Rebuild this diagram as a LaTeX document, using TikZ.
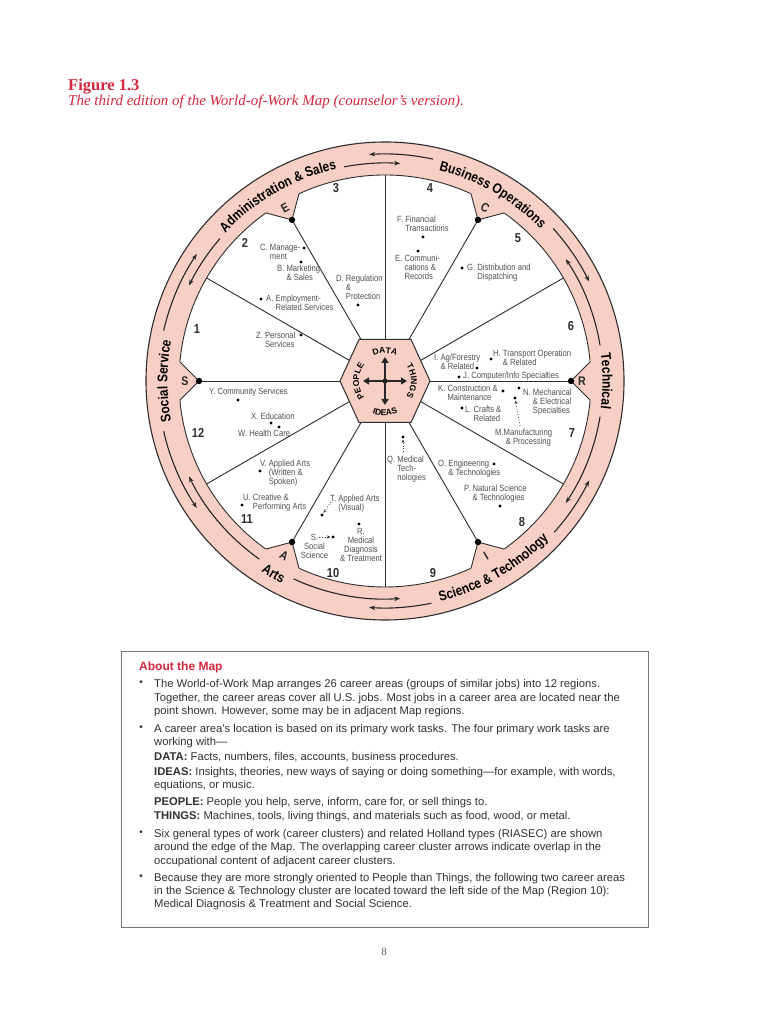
\documentclass[tikz,border=0pt]{standalone}
\usepackage{fontspec}
\setmainfont{Liberation Sans}
\newfontfamily\serif{Liberation Serif}
\newfontfamily\cond[FakeStretch=0.85]{Liberation Sans}
\usetikzlibrary{arrows.meta,calc,decorations.text}
\definecolor{ringpink}{RGB}{247,207,196}
\definecolor{titlered}{RGB}{212,38,62}
\definecolor{lblgray}{RGB}{80,80,80}
\definecolor{wheelline}{RGB}{45,45,45}
\definecolor{bodygray}{RGB}{50,50,50}
\newcommand\hin[1]{\hphantom{#1\ }}
\newcommand\ringtext{\cond\bfseries\fontsize{14}{14}\selectfont}
\newcommand\hexfont{\bfseries\fontsize{8.5}{8.5}\selectfont}
\newcommand\lbl[4]{\node[lab] (#1) at (#2,{-#3+3.3}) {#4};}
\newcommand\dt[3]{\node[dotn] (#1) at (#2,-#3) {};}
\newcommand\cwlabel[3]{\path[decorate, decoration={text along path, text={|\ringtext|#2}, text align=center}] (#1+40:#3) arc[start angle=#1+40, end angle=#1-40, radius=#3];}
\newcommand\ccwlabel[3]{\path[decorate, decoration={text along path, text={|\ringtext|#2}, text align=center}] (#1-40:#3) arc[start angle=#1-40, end angle=#1+40, radius=#3];}
\newcommand\ringarr[3]{%
  \draw[ringarrow] (#1+#2:#3) arc[start angle=#1+#2, end angle=#1+34, radius=#3];
  \draw[ringarrow] (#1-#2:#3) arc[start angle=#1-#2, end angle=#1-34, radius=#3];}
\begin{document}
\begin{tikzpicture}[x=1pt,y=1pt,
  lab/.style={font=\cond\fontsize{9}{9}\selectfont, text=lblgray, inner sep=0pt, align=left, anchor=north west},
  labc/.style={lab, align=center, anchor=north},
  dotn/.style={circle, fill=black, inner sep=0pt, minimum size=3.4pt},
  rnum/.style={font=\cond\bfseries\fontsize{13}{13}\selectfont, text=black!82, inner sep=0pt},
  clet/.style={font=\cond\bfseries\fontsize{12.5}{12.5}\selectfont, text=black!85, inner sep=0pt},
  body/.style={font=\fontsize{11.25}{13}\selectfont, text=bodygray, inner sep=0pt, anchor=base west},
  bul/.style={font=\fontsize{10}{10}\selectfont, text=bodygray, inner sep=0pt},
  ringarrow/.style={line width=1.1pt, draw=black!85, -{Stealth[length=6pt,width=4.5pt]}},
  wl/.style={draw=wheelline, line width=0.9pt},
  dotarr/.style={dotted, line width=0.8pt, draw=black!80, -{Stealth[length=3.5pt,width=3pt]}, shorten >=0.6pt},
  cross/.style={line width=2.3pt, draw=black!85, -{Triangle[length=6pt,width=7pt]}}
]
\useasboundingbox (0,0) rectangle (768,1024);
\fill[white] (0,0) rectangle (768,1024);
\begin{scope}[shift={(0,1024)}]
% title
\node[anchor=base west, inner sep=0pt, text=titlered, font=\serif\bfseries\fontsize{16.5}{16.5}\selectfont] (fig) at (68,-91) {Figure 1.3};
\node[anchor=base west, inner sep=0pt, text=titlered, font=\serif\itshape\fontsize{15}{15}\selectfont] (cap) at (68,-105.5) {The third edition of the World-of-Work Map (counselor’s version).};

% wheel
\begin{scope}[shift={(385,-381)}]
  \fill[ringpink] (0,0) circle[radius=239];
  \draw[draw=wheelline, line width=1.1pt] (0,0) circle[radius=239];
  \fill[white] (0,0) circle[radius=206];
  \draw[wl] (0,0) circle[radius=206];
  \foreach \a in {0,60,...,300} \draw[wl] (0,0) -- (\a:186);
  \foreach \a in {30,90,...,330} \draw[wl] (0,0) -- (\a:206);
  \foreach \a in {0,60,...,300} {
    \fill[ringpink] (\a:186) -- ($(\a:186)+(\a+45:27.1)$) -- (\a+6:210) -- (\a-6:210) -- ($(\a:186)+(\a-45:27.1)$) -- cycle;
    \draw[wl] ($(\a:186)+(\a+45:27.1)$) -- (\a:186) -- ($(\a:186)+(\a-45:27.1)$);
    \fill[black] (\a:186) circle[radius=3.2];
  }
  % hexagon
  \filldraw[fill=ringpink, draw=wheelline, line width=1pt] (45,0) -- (26,41.5) -- (-26,41.5) -- (-45,0) -- (-26,-41.5) -- (26,-41.5) -- cycle;
  \draw[cross] (0,0) -- (0,24);
  \draw[cross] (0,0) -- (0,-24);
  \draw[cross] (0,0) -- (-22,0);
  \draw[cross] (0,0) -- (22,0);
  \fill[black!85] (0,0) circle[radius=2.6];
  \path[decorate,decoration={text along path,text={|\hexfont|DATA},text align=center}] (135:27.5) arc[start angle=135,end angle=45,radius=27.5];
  \path[decorate,decoration={text along path,text={|\hexfont|THINGS},text align=center}] (50:26) arc[start angle=50,end angle=-50,radius=26];
  \path[decorate,decoration={text along path,text={|\hexfont|PEOPLE},text align=center}] (230:26) arc[start angle=230,end angle=130,radius=26];
  \path[decorate,decoration={text along path,text={|\hexfont|IDEAS},text align=center}] (225:34.5) arc[start angle=225,end angle=315,radius=34.5];
  % cluster labels
  \cwlabel{120}{Administration {\&} Sales}{217.5}
  \cwlabel{60}{Business Operations}{217.5}
  \cwlabel{0}{Technical}{217.5}
  \cwlabel{180}{Social Service}{217.5}
  \ccwlabel{300}{Science {\&} Technology}{227.5}
  \ccwlabel{240}{Arts}{227.5}
  % cluster arrows
  \ringarr{120}{19.2}{218}
  \ringarr{60}{17.8}{227}
  \ringarr{0}{9.4}{218}
  \ringarr{300}{18.2}{227}
  \ringarr{240}{5.2}{218}
  \ringarr{180}{12.8}{227}
  % cluster letters
  \node[clet, rotate=30] (lE) at (120:200) {E};
  \node[clet, rotate=-30] (lC) at (60:200) {C};
  \node[clet] (lR) at (0:197) {R};
  \node[clet] (lS) at (180:200) {S};
  \node[clet, rotate=-30] (lA) at (240:202) {A};
  \node[clet, rotate=30] (lI) at (300:202) {I};
\end{scope}

% region numbers
\node[rnum] (n1) at (197,-329) {1};
\node[rnum] (n2) at (245,-243) {2};
\node[rnum] (n3) at (336,-188) {3};
\node[rnum] (n4) at (430,-188) {4};
\node[rnum] (n5) at (518,-238) {5};
\node[rnum] (n6) at (571,-326) {6};
\node[rnum] (n7) at (572,-433) {7};
\node[rnum] (n8) at (522,-522) {8};
\node[rnum] (n9) at (433,-573) {9};
\node[rnum] (n10) at (333,-573) {10};
\node[rnum] (n11) at (247,-519) {11};
\node[rnum] (n12) at (198,-433) {12};

% career areas
\lbl{tC}{260}{247}{C. Manage-\\\hin{C.}ment}
\dt{dC}{304}{248}
\lbl{tB}{277}{268}{B. Marketing\\\hin{B.}\& Sales}
\dt{dB}{301}{262}
\lbl{tD}{336}{278}{D. Regulation\\\hin{D.}\&\\\hin{D.}Protection}
\dt{dD}{358}{305}
\lbl{tA}{266}{298}{A. Employment-\\\hin{A.}Related Services}
\dt{dA}{261}{299}
\lbl{tZ}{256}{335}{Z. Personal\\\hin{Z.}Services}
\dt{dZ}{301}{335}
\lbl{tY}{209}{391}{Y. Community Services}
\dt{dY}{238}{400}
\lbl{tX}{251}{416}{X. Education}
\dt{dX}{271}{423}
\lbl{tW}{238}{433}{W. Health Care}
\dt{dW}{279}{427}
\lbl{tV}{260}{463}{V. Applied Arts\\\hin{V.}(Written \&\\\hin{V.}Spoken)}
\dt{dV}{260}{471}
\lbl{tU}{243}{497}{U. Creative \&\\\hin{U.}Performing Arts}
\dt{dU}{242}{505}
\lbl{tT}{330}{498}{T. Applied Arts\\\hin{T.}(Visual)}
\dt{dT}{322}{515}
\node[labc] (tS) at (314.5,{-537+3.3}) {S.\\Social\\Science};
\dt{dS}{333}{537}
\node[labc] (tR) at (361,{-531+3.3}) {R.\\Medical\\Diagnosis\\\& Treatment};
\dt{dR}{359}{524}
\lbl{tQ}{387}{459}{Q. Medical\\\hin{Q.}Tech-\\\hin{Q.}nologies}
\dt{dQ}{403}{437}
\lbl{tO}{438}{463}{O. Engineering\\\hin{O.}\& Technologies}
\dt{dO}{494}{464}
\lbl{tP}{464}{488}{P. Natural Science\\\hin{P.}\& Technologies}
\dt{dP}{500}{506}
\lbl{tK}{438}{388}{K. Construction \&\\\hin{K.}Maintenance}
\dt{dK}{503}{391}
\lbl{tN}{523}{392}{N. Mechanical\\\hin{N.}\& Electrical\\\hin{N.}Specialties}
\dt{dN}{519}{388}
\lbl{tL}{465}{409}{L. Crafts \&\\\hin{L.}Related}
\dt{dL}{462}{408}
\lbl{tM}{495}{432}{M.Manufacturing\\\hin{M.}\& Processing}
\dt{dM}{515}{398}
\lbl{tI}{434}{357}{I. Ag/Forestry\\\hin{I.}\& Related}
\dt{dI}{477}{368}
\lbl{tH}{493}{353}{H. Transport Operation\\\hin{H.}\& Related}
\dt{dH}{491}{359}
\lbl{tJ}{463}{375}{J. Computer/Info Specialties}
\dt{dJ}{459}{377}
\lbl{tG}{467}{267}{G. Distribution and\\\hin{G.}Dispatching}
\dt{dG}{462}{268}
\lbl{tF}{397}{219}{F. Financial\\\hin{F.}Transactions}
\dt{dF}{423}{237}
\lbl{tE}{395}{258}{E. Communi-\\\hin{E.}cations \&\\\hin{E.}Records}
\dt{dE}{418}{251}

% dotted pointer arrows
\coordinate (aT) at (331,-502);
\coordinate (aS) at (319,-537);
\coordinate (aQ) at (403,-452);
\coordinate (aM) at (520,-426);
\draw[dotarr] (aT) -- (dT);
\draw[dotarr] (aS) -- (dS);
\draw[dotarr] (aQ) -- (dQ);
\draw[dotarr] (aM) -- (dM);

% about box
\draw[black!55, line width=0.9pt] (121,-651) rectangle (648,-927);
\node[anchor=base west, inner sep=0pt, text=titlered, font=\bfseries\fontsize{12}{12}\selectfont] (about) at (139,-671) {About the Map};
\node[bul] (b1) at (141,-683) {•};
\node[bul] (b2) at (141,-728) {•};
\node[bul] (b3) at (141,-833) {•};
\node[bul] (b4) at (141,-877) {•};
\node[body] (l1) at (154,-687.8) {The World-of-Work Map arranges 26 career areas (groups of similar jobs) into 12 regions.};
\node[body] (l2) at (154,-701.8) {Together, the career areas cover all U.S. jobs. Most jobs in a career area are located near the};
\node[body] (l3) at (154,-714.8) {point shown. However, some may be in adjacent Map regions.};
\node[body] (l4) at (154,-732.8) {A career area’s location is based on its primary work tasks. The four primary work tasks are};
\node[body] (l5) at (154,-745.8) {working with—};
\node[body] (l6) at (154,-760.8) {\textbf{DATA:} Facts, numbers, files, accounts, business procedures.};
\node[body] (l7) at (154,-775.8) {\textbf{IDEAS:} Insights, theories, new ways of saying or doing something—for example, with words,};
\node[body] (l8) at (154,-788.8) {equations, or music.};
\node[body] (l9) at (154,-805.8) {\textbf{PEOPLE:} People you help, serve, inform, care for, or sell things to.};
\node[body] (l10) at (154,-819.8) {\textbf{THINGS:} Machines, tools, living things, and materials such as food, wood, or metal.};
\node[body] (l11) at (154,-837.8) {Six general types of work (career clusters) and related Holland types (RIASEC) are shown};
\node[body] (l12) at (154,-850.8) {around the edge of the Map. The overlapping career cluster arrows indicate overlap in the};
\node[body] (l13) at (154,-864.8) {occupational content of adjacent career clusters.};
\node[body] (l14) at (154,-881.8) {Because they are more strongly oriented to People than Things, the following two career areas};
\node[body] (l15) at (154,-894.8) {in the Science \& Technology cluster are located toward the left side of the Map (Region 10):};
\node[body] (l16) at (154,-907.8) {Medical Diagnosis \& Treatment and Social Science.};
\node[font=\serif\fontsize{11}{11}\selectfont, text=black!60, inner sep=0pt] (pg) at (384,-952) {8};
\end{scope}
\end{tikzpicture}
\end{document}
